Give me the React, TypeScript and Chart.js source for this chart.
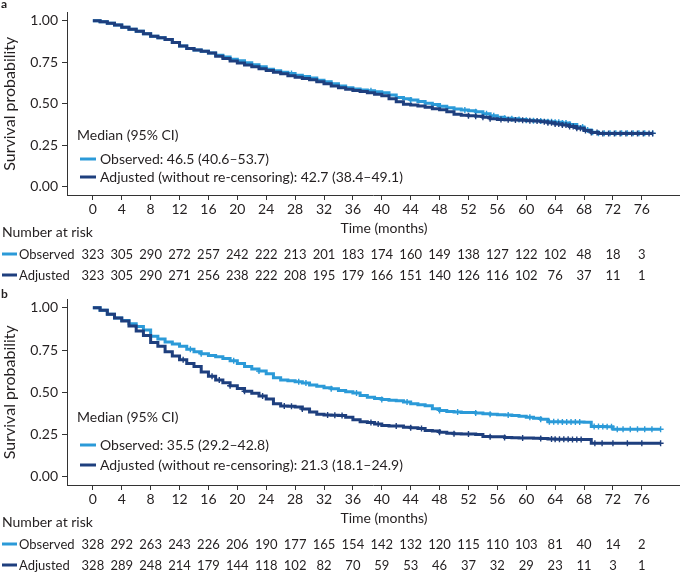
import { useEffect, useRef } from 'react';
import { Chart, registerables } from 'chart.js';

Chart.register(...registerables);

const FONT = 'Lato, "Open Sans", "DejaVu Sans", sans-serif';
const INK = '#231f20';
const AXIS = '#333333';
const OBS_COLOR = '#2b9ad8';
const ADJ_COLOR = '#1e3f7e';

const X_MIN = -3.58;
const X_MAX = 81.23;
const Y_MIN = -0.05;
const Y_MAX = 1.05;

const monthTicks = [0, 4, 8, 12, 16, 20, 24, 28, 32, 36, 40, 44, 48, 52, 56, 60, 64, 68, 72, 76];
const probTicks = [0, 0.25, 0.5, 0.75, 1];

// Panel a: Kaplan–Meier estimates (months, survival)
const timesA = [
  0, 1, 2, 3, 4, 5, 6, 7, 8, 9, 10, 11, 12, 13, 14, 15, 16, 17, 18, 19, 20, 21, 22, 23, 24, 25, 26, 27, 28, 29,
  30, 31, 32, 33, 34, 35, 36, 37, 38, 39, 40, 41, 42, 43, 44, 45, 46, 47, 48, 49, 50, 51, 52, 53, 54, 55, 56, 57,
  58, 59, 60, 61, 62, 63, 64, 65, 66, 67, 68, 69, 70, 77.5,
];
const observedA = [
  1.0, 0.994, 0.985, 0.974, 0.96, 0.948, 0.937, 0.922, 0.907, 0.898, 0.886, 0.868, 0.848, 0.832, 0.824, 0.816,
  0.806, 0.792, 0.782, 0.768, 0.758, 0.746, 0.735, 0.722, 0.708, 0.698, 0.69, 0.682, 0.672, 0.664, 0.655, 0.642,
  0.632, 0.62, 0.606, 0.596, 0.588, 0.583, 0.578, 0.572, 0.566, 0.552, 0.538, 0.53, 0.522, 0.513, 0.503, 0.495,
  0.484, 0.476, 0.468, 0.462, 0.458, 0.452, 0.44, 0.428, 0.419, 0.413, 0.409, 0.405, 0.401, 0.398, 0.396, 0.392,
  0.388, 0.383, 0.375, 0.36, 0.342, 0.328, 0.322, 0.322,
];
const adjustedA = [
  1.0, 0.994, 0.985, 0.974, 0.96, 0.948, 0.937, 0.922, 0.907, 0.898, 0.886, 0.868, 0.848, 0.832, 0.824, 0.816,
  0.806, 0.786, 0.772, 0.757, 0.745, 0.733, 0.722, 0.71, 0.7, 0.69, 0.68, 0.668, 0.66, 0.652, 0.644, 0.632, 0.62,
  0.606, 0.596, 0.587, 0.58, 0.573, 0.566, 0.557, 0.548, 0.53, 0.512, 0.497, 0.492, 0.486, 0.478, 0.47, 0.464,
  0.452, 0.437, 0.43, 0.427, 0.424, 0.418, 0.41, 0.405, 0.403, 0.402, 0.4, 0.398, 0.396, 0.392, 0.385, 0.378,
  0.372, 0.362, 0.352, 0.338, 0.326, 0.321, 0.321,
];
const censorObsA = [
  27.5, 33, 38.5, 44, 48, 51.5, 53, 54.5, 55.5, 57, 58, 59, 60, 61, 62, 63, 63.5, 64, 64.5, 65, 65.5, 66, 67, 67.8,
  68.5, 69.2, 70, 70.8, 71.6, 72.4, 73.2, 74, 74.8, 75.6, 76.4, 77.5,
];
const censorAdjA = [
  52, 53, 54, 55, 56.5, 57.5, 58.5, 59.5, 60.5, 61.5, 62.5, 63, 63.5, 64, 64.5, 65, 65.5, 66, 66.5, 67, 67.5, 68.2,
  69, 69.8, 70.6, 71.4, 72.2, 73, 73.8, 74.6, 75.4, 76.2, 77, 77.5,
];
const riskObsA = [323, 305, 290, 272, 257, 242, 222, 213, 201, 183, 174, 160, 149, 138, 127, 122, 102, 48, 18, 3];
const riskAdjA = [323, 305, 290, 271, 256, 238, 222, 208, 195, 179, 166, 151, 140, 126, 116, 102, 76, 37, 11, 1];

// Panel b
const timesB = [
  0, 1, 2, 3, 4, 5, 6, 7, 8, 9, 10, 11, 12, 13, 14, 15, 16, 17, 18, 19, 20, 21, 22, 23, 24, 25, 26, 27, 28, 29,
  30, 31, 32, 33, 34, 35, 36, 37, 38, 39, 40, 41, 42, 43, 44, 45, 46, 47, 48, 49, 50, 51, 52, 53, 54, 55, 56, 57,
  58, 59, 60, 61, 62, 63, 64, 65, 66, 67, 68, 69, 70, 71, 72, 78.6,
];
const observedB = [
  1.0, 0.985, 0.962, 0.94, 0.925, 0.905, 0.89, 0.868, 0.832, 0.815, 0.798, 0.785, 0.772, 0.755, 0.74, 0.728, 0.718,
  0.71, 0.7, 0.686, 0.67, 0.652, 0.638, 0.625, 0.61, 0.585, 0.573, 0.568, 0.562, 0.555, 0.543, 0.535, 0.527, 0.52,
  0.51, 0.502, 0.495, 0.48, 0.47, 0.462, 0.457, 0.452, 0.45, 0.442, 0.432, 0.426, 0.42, 0.402, 0.392, 0.386, 0.382,
  0.38, 0.379, 0.377, 0.372, 0.369, 0.367, 0.365, 0.362, 0.358, 0.352, 0.345, 0.34, 0.325, 0.325, 0.324, 0.324,
  0.323, 0.322, 0.296, 0.296, 0.295, 0.28, 0.28,
];
const adjustedB = [
  1.0, 0.985, 0.962, 0.94, 0.922, 0.892, 0.862, 0.836, 0.795, 0.772, 0.74, 0.715, 0.692, 0.67, 0.652, 0.62, 0.594,
  0.572, 0.556, 0.538, 0.522, 0.506, 0.494, 0.478, 0.46, 0.432, 0.418, 0.416, 0.413, 0.4, 0.382, 0.37, 0.365, 0.364,
  0.362, 0.352, 0.336, 0.325, 0.32, 0.312, 0.303, 0.299, 0.299, 0.292, 0.289, 0.285, 0.273, 0.27, 0.262, 0.256,
  0.254, 0.253, 0.252, 0.25, 0.238, 0.236, 0.236, 0.232, 0.23, 0.229, 0.228, 0.227, 0.226, 0.222, 0.221, 0.221,
  0.22, 0.22, 0.22, 0.197, 0.197, 0.197, 0.197, 0.197,
];
const censorObsB = [
  13.5, 15, 19.5, 23, 28.5, 29.5, 33, 36.5, 40, 43.5, 48, 50.5, 53, 55, 57.5, 60.5, 62, 63.2, 63.8, 64.4, 65, 65.6,
  66.2, 66.8, 67.4, 69.4, 70, 70.6, 71.2, 71.8, 72.6, 73.4, 74.4, 75.4, 76.4, 77.4, 78.6,
];
const censorAdjB = [
  12.5, 16.5, 17.5, 19, 21, 23.5, 26.5, 27.5, 29, 32.5, 33.5, 34.5, 38.5, 39.5, 42, 44, 45.5, 48, 50, 52, 55, 57,
  59.5, 62, 63.5, 64, 64.6, 65.2, 65.8, 66.4, 67, 67.6, 69.5, 70.5, 72, 74, 76, 78.6,
];
const riskObsB = [328, 292, 263, 243, 226, 206, 190, 177, 165, 154, 142, 132, 120, 115, 110, 103, 81, 40, 14, 2];
const riskAdjB = [328, 289, 248, 214, 179, 144, 118, 102, 82, 70, 59, 53, 46, 37, 32, 29, 23, 11, 3, 1];

type Pt = { x: number; y: number };

function curvePoints(times: number[], surv: number[]): Pt[] {
  return times.map((t, i) => ({ x: t, y: surv[i] }));
}

function survivalAt(times: number[], surv: number[], t: number): number {
  let v = surv[0];
  for (let i = 0; i < times.length; i++) {
    if (times[i] <= t) v = surv[i];
    else break;
  }
  return v;
}

function censorPoints(times: number[], surv: number[], cens: number[]): Pt[] {
  return cens.map((t) => ({ x: t, y: survivalAt(times, surv, t) }));
}

function drawText(
  ctx: CanvasRenderingContext2D,
  text: string,
  x: number,
  y: number,
  align: CanvasTextAlign,
  font: string,
  sx = 1
) {
  ctx.save();
  ctx.font = font;
  ctx.fillStyle = INK;
  ctx.textAlign = align;
  ctx.textBaseline = 'middle';
  ctx.translate(x, y);
  ctx.scale(sx, 1);
  ctx.fillText(text, 0, 0);
  ctx.restore();
}

function swatch(ctx: CanvasRenderingContext2D, x0: number, x1: number, y: number, color: string) {
  ctx.save();
  ctx.strokeStyle = color;
  ctx.lineWidth = 3;
  ctx.beginPath();
  ctx.moveTo(x0, y);
  ctx.lineTo(x1, y);
  ctx.stroke();
  ctx.restore();
}

type PanelProps = {
  letter: string;
  times: number[];
  observed: number[];
  adjusted: number[];
  censorObs: number[];
  censorAdj: number[];
  riskObs: number[];
  riskAdj: number[];
  legendObs: string;
  legendAdj: string;
  height: number;
  padTop: number;
  axisHeight: number;
  letterY: number;
  legendY: number[];
  timeTitleY: number;
  riskY: number[];
};

function Panel(p: PanelProps) {
  const ref = useRef<HTMLCanvasElement | null>(null);

  useEffect(() => {
    const canvas = ref.current;
    if (!canvas) return;

    const decorations = {
      id: 'kmDecorations',
      afterDraw(chart: Chart) {
        const ctx = chart.ctx;
        const xs = chart.scales.x;

        // panel letter
        ctx.save();
        ctx.font = `bold 12px ${FONT}`;
        ctx.fillStyle = INK;
        ctx.textAlign = 'left';
        ctx.textBaseline = 'alphabetic';
        ctx.fillText(p.letter, 1, p.letterY);
        ctx.restore();

        // median legend
        const f14 = `14px ${FONT}`;
        drawText(ctx, 'Median (95% CI)', 77, p.legendY[0], 'left', f14);
        swatch(ctx, 80, 96, p.legendY[1], OBS_COLOR);
        drawText(ctx, p.legendObs, 100, p.legendY[1], 'left', f14);
        swatch(ctx, 80, 96, p.legendY[2], ADJ_COLOR);
        drawText(ctx, p.legendAdj, 100, p.legendY[2], 'left', f14);

        // x-axis title
        drawText(ctx, 'Time (months)', 384, p.timeTitleY, 'center', f14);

        // number-at-risk table
        drawText(ctx, 'Number at risk', 2, p.riskY[0], 'left', f14);
        const rows: [string, string, number[]][] = [
          ['Observed', OBS_COLOR, p.riskObs],
          ['Adjusted', ADJ_COLOR, p.riskAdj],
        ];
        rows.forEach(([name, color, counts], r) => {
          const y = p.riskY[r + 1];
          swatch(ctx, 2, 17, y, color);
          drawText(ctx, name, 19, y, 'left', f14, 0.93);
          counts.forEach((n, i) => {
            drawText(ctx, String(n), xs.getPixelForValue(monthTicks[i]), y, 'center', f14, 0.93);
          });
        });
      },
    };

    const chart = new Chart(canvas, {
      type: 'line',
      data: {
        datasets: [
          {
            label: 'Adjusted censored',
            data: censorPoints(p.times, p.adjusted, p.censorAdj),
            showLine: false,
            pointStyle: 'cross',
            pointRadius: 3,
            pointBorderWidth: 1.4,
            borderColor: ADJ_COLOR,
            backgroundColor: ADJ_COLOR,
            order: 0,
          },
          {
            label: 'Adjusted',
            data: curvePoints(p.times, p.adjusted),
            borderColor: ADJ_COLOR,
            borderWidth: 3,
            stepped: 'before',
            pointRadius: 0,
            fill: false,
            order: 1,
          },
          {
            label: 'Observed censored',
            data: censorPoints(p.times, p.observed, p.censorObs),
            showLine: false,
            pointStyle: 'cross',
            pointRadius: 3,
            pointBorderWidth: 1.4,
            borderColor: OBS_COLOR,
            backgroundColor: OBS_COLOR,
            order: 2,
          },
          {
            label: 'Observed',
            data: curvePoints(p.times, p.observed),
            borderColor: OBS_COLOR,
            borderWidth: 3,
            stepped: 'before',
            pointRadius: 0,
            fill: false,
            order: 3,
          },
        ],
      },
      options: {
        animation: false,
        responsive: false,
        devicePixelRatio: 1,
        events: [],
        layout: { padding: { left: 0, right: 2, top: p.padTop, bottom: 0 } },
        plugins: { legend: { display: false }, tooltip: { enabled: false } },
        scales: {
          x: {
            type: 'linear',
            min: X_MIN,
            max: X_MAX,
            afterBuildTicks: (s: any) => {
              s.ticks = monthTicks.map((v) => ({ value: v }));
            },
            afterFit: (s: any) => {
              s.height = p.axisHeight;
            },
            ticks: {
              autoSkip: false,
              maxRotation: 0,
              padding: 1,
              color: INK,
              font: { family: FONT, size: 14 },
              callback: (v: any) => String(v),
            },
            grid: {
              display: true,
              drawOnChartArea: false,
              drawTicks: true,
              tickLength: 5,
              color: AXIS,
              lineWidth: 1,
            },
            border: { display: true, color: AXIS, width: 1 },
          },
          y: {
            type: 'linear',
            min: Y_MIN,
            max: Y_MAX,
            afterBuildTicks: (s: any) => {
              s.ticks = probTicks.map((v) => ({ value: v }));
            },
            afterFit: (s: any) => {
              s.width = 67;
            },
            ticks: {
              padding: 4,
              color: INK,
              font: { family: FONT, size: 14 },
              callback: (v: any) => Number(v).toFixed(2),
            },
            grid: {
              display: true,
              drawOnChartArea: false,
              drawTicks: true,
              tickLength: 5,
              color: AXIS,
              lineWidth: 1,
            },
            border: { display: true, color: AXIS, width: 1 },
            title: {
              display: true,
              text: 'Survival probability',
              color: INK,
              font: { family: FONT, size: 16 },
              padding: 0,
            },
          },
        },
      },
      plugins: [decorations],
    } as any);

    return () => chart.destroy();
  }, []);

  return <canvas ref={ref} width={685} height={p.height} style={{ display: 'block', width: 685, height: p.height }} />;
}

export default function App() {
  return (
    <div style={{ position: 'absolute', left: 0, top: 0, width: 685, height: 573, background: '#ffffff' }}>
      <Panel
        letter="a"
        times={timesA}
        observed={observedA}
        adjusted={adjustedA}
        censorObs={censorObsA}
        censorAdj={censorAdjA}
        riskObs={riskObsA}
        riskAdj={riskAdjA}
        legendObs="Observed: 46.5 (40.6–53.7)"
        legendAdj="Adjusted (without re-censoring): 42.7 (38.4–49.1)"
        height={287}
        padTop={9}
        axisHeight={92}
        letterY={8}
        legendY={[135, 159, 177]}
        timeTitleY={228}
        riskY={[232, 254, 275]}
      />
      <Panel
        letter="b"
        times={timesB}
        observed={observedB}
        adjusted={adjustedB}
        censorObs={censorObsB}
        censorAdj={censorAdjB}
        riskObs={riskObsB}
        riskAdj={riskAdjB}
        legendObs="Observed: 35.5 (29.2–42.8)"
        legendAdj="Adjusted (without re-censoring): 21.3 (18.1–24.9)"
        height={286}
        padTop={12}
        axisHeight={88}
        letterY={11}
        legendY={[130, 158, 178]}
        timeTitleY={231}
        riskY={[235, 257, 278]}
      />
    </div>
  );
}
